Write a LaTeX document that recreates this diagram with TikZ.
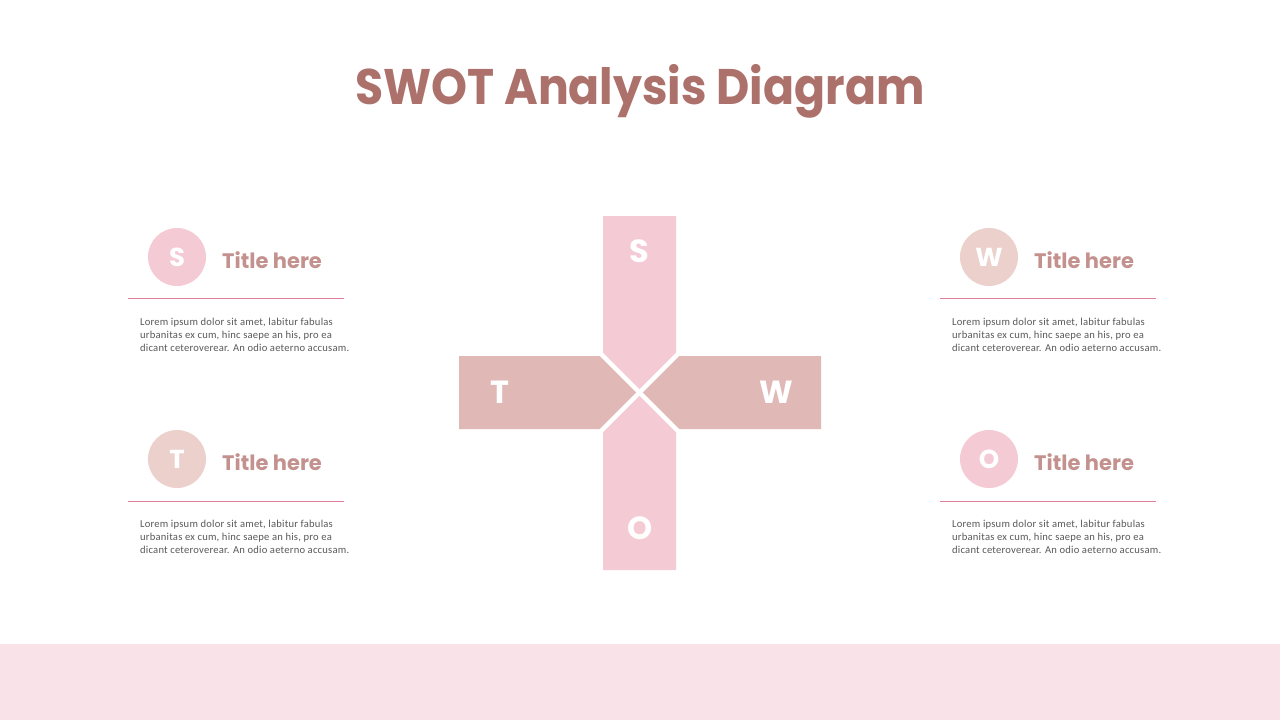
\documentclass[tikz,border=0pt]{standalone}
\usepackage{fontspec}
\setmainfont{Carlito}[LetterSpace=2]
\newfontfamily\headfont{Poppins}[UprightFont=* Bold]
\definecolor{titlecol}{HTML}{AD716B}
\definecolor{pinkA}{HTML}{F4CBD5}
\definecolor{pinkB}{HTML}{E0B8B6}
\definecolor{pinkC}{HTML}{EBD0CC}
\definecolor{subcol}{HTML}{C4928E}
\definecolor{rulecol}{HTML}{E07E98}
\definecolor{bodycol}{HTML}{595959}
\definecolor{bandcol}{HTML}{F9E2E8}
\begin{document}
\begin{tikzpicture}[x=1pt,y=-1pt,
  letter/.style={text=white,font=\headfont\fontsize{32}{32}\selectfont,inner sep=0},
  circ/.style={circle,minimum size=58pt,inner sep=0,text=white,font=\headfont\fontsize{26}{26}\selectfont},
  subtitle/.style={anchor=base west,inner sep=0,text=subcol,font=\headfont\fontsize{21}{21}\selectfont},
  body/.style={anchor=north west,inner sep=0,align=left,text=bodycol,font=\fontsize{10.6}{13}\selectfont},
  sep/.style={draw=rulecol,line width=0.8pt}]
\useasboundingbox (0,0) rectangle (1280,720);
\fill[white] (0,0) rectangle (1280,720);
\fill[bandcol] (0,644) rectangle (1280,720);
% title
\node[text=titlecol,font=\headfont\fontsize{50}{50}\selectfont,inner sep=0,anchor=base,xscale=0.915] (title) at (640,104) {SWOT Analysis Diagram};
% cross
\coordinate (c) at (639.5,392.5);
\fill[pinkA] (603,216) -- (676,216) -- (676,356) -- (c) -- (603,356) -- cycle;
\fill[pinkA] (603,570) -- (676,570) -- (676,429) -- (c) -- (603,429) -- cycle;
\fill[pinkB] (459,356) -- (603,356) -- (c) -- (603,429) -- (459,429) -- cycle;
\fill[pinkB] (821,356) -- (676,356) -- (c) -- (676,429) -- (821,429) -- cycle;
\draw[white,line width=4.5pt] (598,351) -- (681,434);
\draw[white,line width=4.5pt] (681,351) -- (598,434);
\node[letter] (ls) at (639.5,251) {S};
\node[letter] (lt) at (500,392) {T};
\node[letter] (lw) at (776,392) {W};
\node[letter] (lo) at (640,528) {O};
% S block
\node[circ,fill=pinkA] (cs) at (177,257) {S};
\node[subtitle] (ts) at (222,268) {Title here};
\draw[sep] (128,298) -- (344,298);
\node[body] (bs) at (140,318) {Lorem ipsum dolor sit amet, labitur fabulas\\urbanitas ex cum, hinc saepe an his, pro ea\\dicant ceteroverear. An odio aeterno accusam.};
% T block
\node[circ,fill=pinkC] (ct) at (177,459) {T};
\node[subtitle] (tt) at (222,470) {Title here};
\draw[sep] (128,501) -- (344,501);
\node[body] (bt) at (140,520) {Lorem ipsum dolor sit amet, labitur fabulas\\urbanitas ex cum, hinc saepe an his, pro ea\\dicant ceteroverear. An odio aeterno accusam.};
% W block
\node[circ,fill=pinkC] (cw) at (989,257) {W};
\node[subtitle] (tw) at (1034,268) {Title here};
\draw[sep] (940,298) -- (1156,298);
\node[body] (bw) at (952,318) {Lorem ipsum dolor sit amet, labitur fabulas\\urbanitas ex cum, hinc saepe an his, pro ea\\dicant ceteroverear. An odio aeterno accusam.};
% O block
\node[circ,fill=pinkA] (co) at (989,459) {O};
\node[subtitle] (to) at (1034,470) {Title here};
\draw[sep] (940,501) -- (1156,501);
\node[body] (bo) at (952,520) {Lorem ipsum dolor sit amet, labitur fabulas\\urbanitas ex cum, hinc saepe an his, pro ea\\dicant ceteroverear. An odio aeterno accusam.};
\end{tikzpicture}
\end{document}
